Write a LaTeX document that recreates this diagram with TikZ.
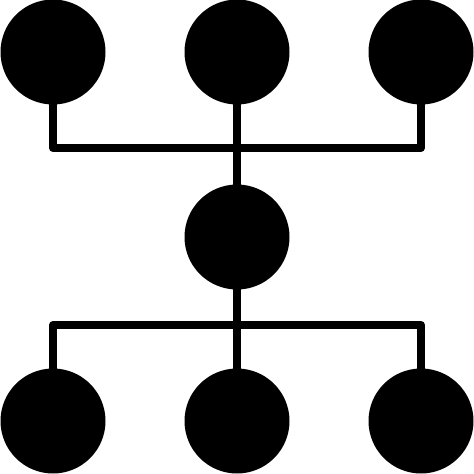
\documentclass[tikz,border=0pt]{standalone}
\begin{document}
\begin{tikzpicture}[x=1pt,y=-1pt,
  dot/.style={circle,fill=black,inner sep=0pt,minimum size=105pt},
  link/.style={draw=black,line width=8pt,line join=round,line cap=butt}]
\useasboundingbox (0,0) rectangle (474,474);
\node[dot] (tl) at (53,52) {};
\node[dot] (tm) at (237,52) {};
\node[dot] (tr) at (421,52) {};
\node[dot] (mid) at (237,237) {};
\node[dot] (bl) at (53,421) {};
\node[dot] (bm) at (237,421) {};
\node[dot] (br) at (421,421) {};
\coordinate (jt) at (237,148);
\coordinate (jb) at (237,325);
\draw[link] (tl.center) |- (jt) -| (tr.center);
\draw[link] (tm.center) -- (mid.center);
\draw[link] (bl.center) |- (jb) -| (br.center);
\draw[link] (mid.center) -- (bm.center);
\end{tikzpicture}
\end{document}
